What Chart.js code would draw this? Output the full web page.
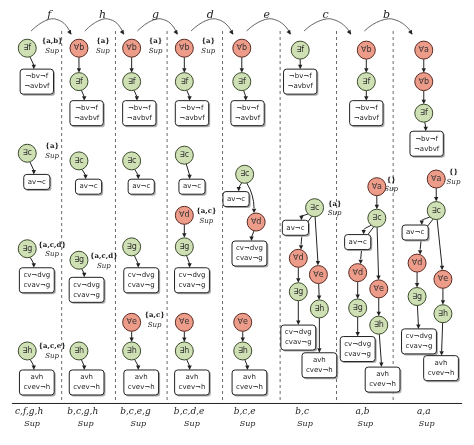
<!DOCTYPE html>
<html><head><meta charset="utf-8">
<script src="https://cdn.jsdelivr.net/npm/chart.js@4"></script>
<style>html,body{margin:0;padding:0;background:#fff}</style>
</head><body>
<canvas id="c" width="474" height="445"></canvas>
<script>
// Diagram data
const nodes = [
['n1','∃f',18,40],['n2','∃c',18,150],['n3','∃g',18,250],['n4','∃h',18,357],
['n5','∀b',72,40],['n6','∃f',72,75],['n7','∃c',72,158],['n8','∃g',72,262],['n9','∃h',72,357],
['n10','∀b',127,40],['n11','∃f',127,75],['n12','∃c',127,158],['n13','∃g',127,248],['n14','∀e',127,327],['n15','∃h',127,357],
['n16','∀b',182,40],['n17','∃f',182,75],['n18','∃c',182,152],['n19','∀d',182,215],['n20','∃g',182,248],['n21','∀e',182,327],['n22','∃h',182,357],
['n23','∀b',242,40],['n24','∃f',242,75],['n25','∃c',245,172],['n26','∀d',257,222],['n27','∀e',243,327],['n28','∃h',243,357],
['n29','∃f',303,42],['n30','∃c',318,207],['n31','∀d',301,260],['n32','∀e',322,277],['n33','∃g',301,295],['n34','∃h',323,313],
['n35','∀b',372,42],['n36','∃f',372,75],['n37','∀a',383,185],['n38','∃c',383,218],['n39','∀d',363,275],['n40','∀e',385,292],['n41','∃g',363,312],['n42','∃h',385,330],
['n43','∀a',432,42],['n44','∀b',432,75],['n45','∃f',432,108],['n46','∀a',445,177],['n47','∃c',445,210],['n48','∀d',425,265],['n49','∀e',452,282],['n50','∃g',425,300],['n51','∃h',452,318]
];
const F=['¬bv¬f','¬avbvf'], C=['av¬c'], G=['cv¬dvg','cvav¬g'], H=['avh','cvev¬h'];
const boxes = [
['b1',F,28,75],['b2',C,28,180],['b3',G,28,283],['b4',H,28,390],
['b5',F,80,108],['b6',C,82,185],['b7',G,80,293],['b8',H,80,390],
['b9',F,135,108],['b10',C,137,185],['b11',G,137,283],['b12',H,137,390],
['b13',F,190,108],['b14',C,190,185],['b15',G,190,283],['b16',H,190,390],
['b17',F,248,108],['b18',C,236,198],['b19',G,250,255],['b20',H,250,390],
['b21',F,303,75],['b22',C,298,228],['b23',G,301,343],['b24',H,323,372],
['b25',F,372,108],['b26',C,363,243],['b27',G,363,355],['b28',H,389,387],
['b29',F,435,140],['b30',C,423,233],['b31',G,427,347],['b32',H,450,375]
];
const edges = [
['n1','b1'],['n2','b2'],['n3','b3'],['n4','b4'],
['n5','n6'],['n6','b5'],['n7','b6'],['n8','b7'],['n9','b8'],
['n10','n11'],['n11','b9'],['n12','b10'],['n13','b11'],['n14','n15'],['n15','b12'],
['n16','n17'],['n17','b13'],['n18','b14'],['n19','n20'],['n20','b15'],['n21','n22'],['n22','b16'],
['n23','n24'],['n24','b17'],['n25','b18'],['n25','n26'],['n26','b19'],['n27','n28'],['n28','b20'],
['n29','b21'],['n30','b22'],['n30','n31'],['n30','n32'],['n31','n33'],['n32','n34'],['n33','b23'],['n34','b24'],
['n35','n36'],['n36','b25'],['n37','n38'],['n38','b26'],['n38','n39'],['n38','n40'],['n39','n41'],['n40','n42'],['n41','b27'],['n42','b28'],
['n43','n44'],['n44','n45'],['n45','b29'],['n46','n47'],['n47','b30'],['n47','n48'],['n47','n49'],['n48','n50'],['n49','n51'],['n50','b31'],['n51','b32']
];
const supLabels = [['{a,b}',44,33],['{a}',97,33],['{a}',152,33],['{a}',207,33],['{a}',44,143],['{a,c,d}',44,246],['{a,c,e}',44,352],
['{a,c,d}',98,258],['{a,c}',151,320],['{a,c}',205,211],['{a}',339,203],['{}',398,178],['{}',463,170]];
const separators = [54,110,164,222,282,341,400];
const topLabels = ['f','h','g','d','e','c','b'];
const bottomLabels = ['c,f,g,h','b,c,g,h','b,c,e,g','b,c,d,e','b,c,e','b,c','a,b','a,a'];
const colCenters = [20,76,131,187,245,305,368,432];

const green = nodes.filter(n=>n[1][0]==='∃').map(n=>({x:n[2],y:n[3]}));
const red = nodes.filter(n=>n[1][0]==='∀').map(n=>({x:n[2],y:n[3]}));
const R=9;

const plugin = {
 id:'diagram',
 beforeDatasetsDraw(chart){
  const ctx=chart.ctx, xs=chart.scales.x, ys=chart.scales.y;
  const X=v=>xs.getPixelForValue(v), Y=v=>ys.getPixelForValue(v);
  ctx.save();
  ctx.strokeStyle='#444'; ctx.lineWidth=0.8; ctx.setLineDash([3,3]);
  separators.forEach(s=>{ctx.beginPath();ctx.moveTo(X(s),Y(22));ctx.lineTo(X(s),Y(412));ctx.stroke();});
  ctx.setLineDash([]);
  ctx.font='italic 11px "DejaVu Serif", serif'; ctx.fillStyle='#222'; ctx.textAlign='center';
  topLabels.forEach((t,i)=>{
    const x0=colCenters[i]+2, x1=colCenters[i+1]-12;
    const mx=(x0+x1)/2;
    ctx.strokeStyle='#555'; ctx.lineWidth=0.9;
    ctx.beginPath(); ctx.moveTo(X(x0),Y(22));
    ctx.bezierCurveTo(X(x0+10),Y(12),X(mx),Y(7),X(mx+6),Y(10));
    ctx.bezierCurveTo(X(mx+14),Y(12),X(x1-4),Y(18),X(x1),Y(25)); ctx.stroke();
    arrowHead(ctx,X(x1-3),Y(21),X(x1),Y(26));
    ctx.fillText(t,X(mx-2),Y(8));
  });
  const nodeMap={}; nodes.forEach(n=>nodeMap[n[0]]={x:n[2],y:n[3],node:true});
  boxes.forEach(b=>nodeMap[b[0]]={x:b[2],y:b[3],h:b[1].length*10+5,node:false});
  ctx.strokeStyle='#222'; ctx.fillStyle='#222'; ctx.lineWidth=1;
  edges.forEach(([a,b])=>{
    const A=nodeMap[a], B=nodeMap[b];
    let ax=X(A.x), ay=Y(A.y), bx=X(B.x), by=Y(B.y);
    if(!B.node){ by=Y(B.y)-B.h/2; bx=X(B.x)+(A.x-B.x)*0.3; }
    const dx=bx-ax, dy=by-ay, L=Math.hypot(dx,dy);
    const sx=ax+dx/L*R, sy=ay+dy/L*R;
    let ex=bx, ey=by;
    if(B.node){ ex=bx-dx/L*R; ey=by-dy/L*R; }
    ctx.beginPath(); ctx.moveTo(sx,sy);
    if(Math.abs(dx)>10){ ctx.quadraticCurveTo(ex,sy+(ey-sy)*0.4,ex,ey-5); }
    else ctx.lineTo(ex,ey-4);
    ctx.stroke();
    arrowHead(ctx,ex,ey-8,ex,ey);
  });
  ctx.font='7px "DejaVu Sans", sans-serif'; ctx.textAlign='center'; ctx.textBaseline='middle';
  boxes.forEach(b=>{
    const w=Math.max(...b[1].map(t=>ctx.measureText(t).width))+8, h=b[1].length*10+5;
    const x=X(b[2])-w/2, y=Y(b[3])-h/2;
    ctx.fillStyle='#aaa'; roundRect(ctx,x+1.5,y+1.5,w,h,3); ctx.fill();
    ctx.fillStyle='#fff'; ctx.strokeStyle='#222'; roundRect(ctx,x,y,w,h,3); ctx.fill(); ctx.stroke();
    ctx.fillStyle='#222';
    b[1].forEach((t,i)=>ctx.fillText(t,X(b[2]),y+7.5+i*10));
  });
  supLabels.forEach(s=>{
    ctx.font='bold 7px "DejaVu Serif", serif'; ctx.fillStyle='#222';
    ctx.fillText(s[0],X(s[1]),Y(s[2]));
    ctx.font='italic 7px "DejaVu Serif", serif';
    ctx.fillText('Sup',X(s[1]),Y(s[2]+10));
  });
  ctx.strokeStyle='#222'; ctx.beginPath(); ctx.moveTo(X(2),Y(412)); ctx.lineTo(X(472),Y(412)); ctx.stroke();
  bottomLabels.forEach((t,i)=>{
    ctx.font='italic 9px "DejaVu Serif", serif'; ctx.fillStyle='#222';
    ctx.fillText(t,X(colCenters[i]),Y(421));
    ctx.font='italic 8px "DejaVu Serif", serif';
    ctx.fillText('Sup',X(colCenters[i]+3),Y(433));
  });
  ctx.restore();
 },
 afterDatasetsDraw(chart){
  const ctx=chart.ctx, xs=chart.scales.x, ys=chart.scales.y;
  ctx.save(); ctx.font='8px "DejaVu Sans", sans-serif'; ctx.textAlign='center'; ctx.textBaseline='middle'; ctx.fillStyle='#333';
  nodes.forEach(n=>ctx.fillText(n[1],xs.getPixelForValue(n[2]),ys.getPixelForValue(n[3])));
  ctx.restore();
 }
};
function arrowHead(ctx,x0,y0,x1,y1){
  const a=Math.atan2(y1-y0,x1-x0), s=5;
  ctx.beginPath(); ctx.moveTo(x1,y1);
  ctx.lineTo(x1-s*Math.cos(a-0.45),y1-s*Math.sin(a-0.45));
  ctx.lineTo(x1-s*Math.cos(a+0.45),y1-s*Math.sin(a+0.45)); ctx.closePath(); ctx.fillStyle='#222'; ctx.fill();
}
function roundRect(ctx,x,y,w,h,r){ctx.beginPath();ctx.moveTo(x+r,y);ctx.arcTo(x+w,y,x+w,y+h,r);ctx.arcTo(x+w,y+h,x,y+h,r);ctx.arcTo(x,y+h,x,y,r);ctx.arcTo(x,y,x+w,y,r);ctx.closePath();}

new Chart(document.getElementById('c'),{
  type:'scatter',
  data:{datasets:[
    {data:green,pointRadius:R,pointHoverRadius:R,backgroundColor:'#cfe0b5',borderColor:'#3a4a2a',borderWidth:1},
    {data:red,pointRadius:R,pointHoverRadius:R,backgroundColor:'#ee9c8a',borderColor:'#5a2a22',borderWidth:1}
  ]},
  options:{responsive:false,animation:false,layout:{padding:0},
    plugins:{legend:{display:false},tooltip:{enabled:false}},
    scales:{x:{type:'linear',min:0,max:474,display:false},y:{type:'linear',min:0,max:445,reverse:true,display:false}}},
  plugins:[plugin]
});
</script>
</body></html>
